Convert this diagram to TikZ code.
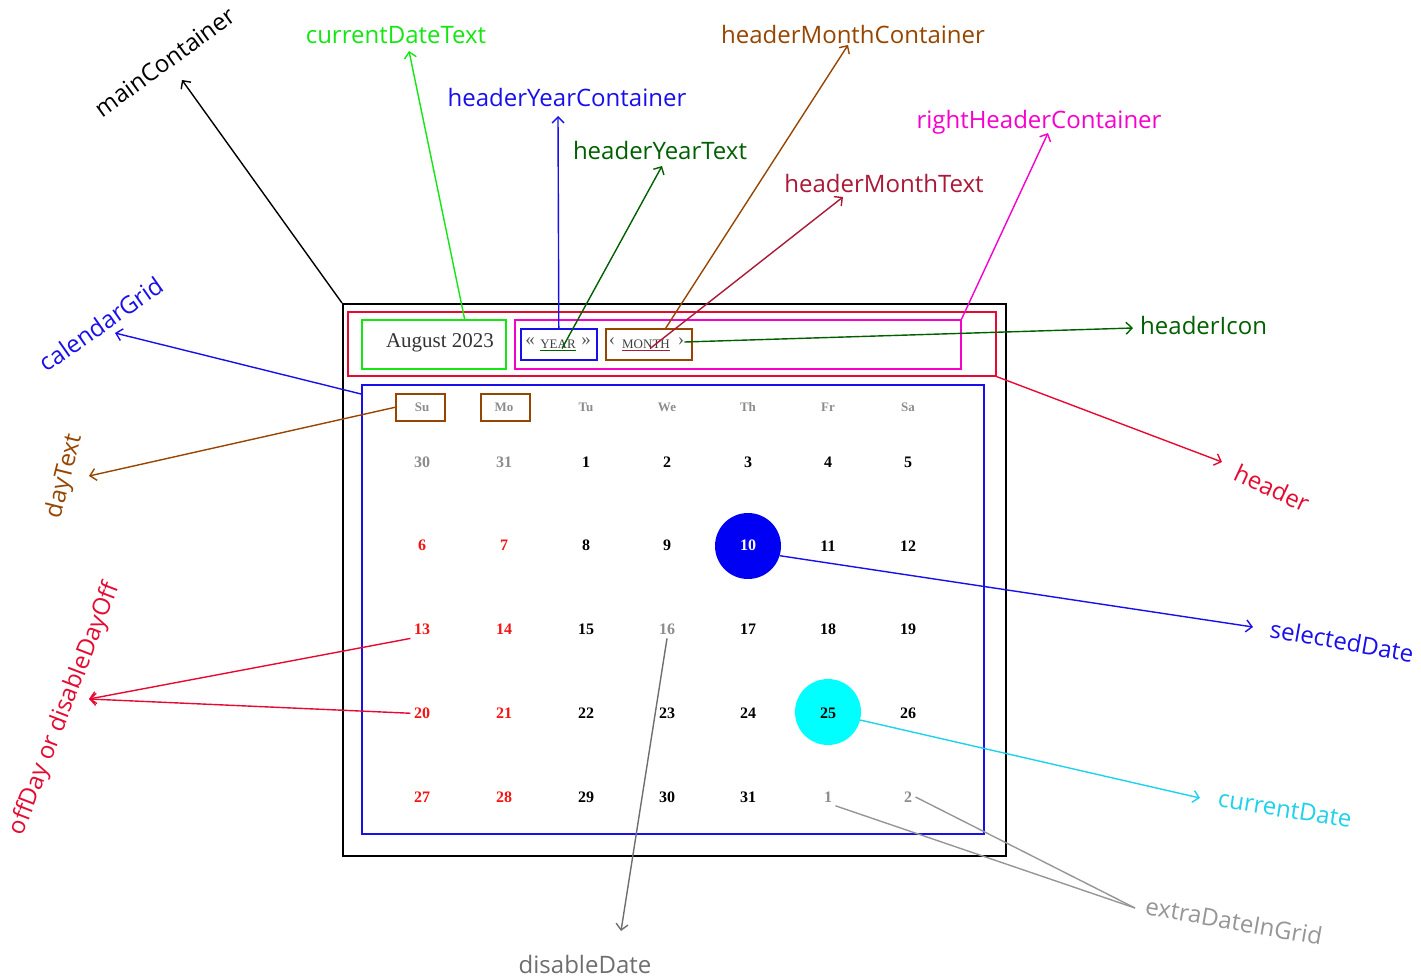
\documentclass[tikz,border=0pt]{standalone}
\usepackage{fontspec}
\setmainfont{Liberation Serif}
\setsansfont{Open Sans}
\usetikzlibrary{arrows.meta}
\definecolor{cgreen}{RGB}{20,230,20}
\definecolor{cblue}{RGB}{25,15,235}
\definecolor{cdkgreen}{RGB}{0,95,0}
\definecolor{cbrown}{RGB}{150,70,0}
\definecolor{cmaroon}{RGB}{170,25,55}
\definecolor{cmagenta}{RGB}{245,0,205}
\definecolor{ccrimson}{RGB}{230,10,50}
\definecolor{ccyan}{RGB}{30,210,235}
\definecolor{cdis}{RGB}{110,110,110}
\definecolor{cextra}{RGB}{150,150,150}
\definecolor{selfill}{RGB}{0,0,245}
\definecolor{curfill}{RGB}{0,255,255}
\definecolor{dg}{RGB}{140,140,140}
\definecolor{dk}{RGB}{0,0,0}
\definecolor{dr}{RGB}{245,20,20}
\definecolor{dw}{RGB}{255,255,255}
\tikzset{>={Straight Barb[length=6pt,width=12pt]},
lbl/.style={font=\sffamily\fontsize{24}{28}\selectfont, inner sep=0pt},
box/.style={draw, line width=1.6pt, inner sep=0pt, anchor=north west},
arr/.style={->, line width=1.4pt},
dayname/.style={font=\bfseries\fontsize{13}{15}\selectfont, text=dg},
date/.style={font=\bfseries\fontsize{16}{18}\selectfont},
hdr/.style={font=\fontsize{13}{15}\selectfont, text=black!75, inner sep=0pt},
chev/.style={font=\fontsize{19}{21}\selectfont, text=black!65, inner sep=0pt},
}

\begin{document}
\begin{tikzpicture}[x=1pt,y=-1pt]
\useasboundingbox (0,0) rectangle (1421,979);

    \node[box, draw=black, line width=2pt, minimum width=663pt, minimum height=552pt] (mainContainer) at (342,303) {};
    \node[box, draw=ccrimson, minimum width=648pt, minimum height=64pt] (header) at (347,311) {};
    \node[box, draw=cgreen, minimum width=144pt, minimum height=49pt] (dateBox) at (361,319) {};
    \node[box, draw=cmagenta, minimum width=446pt, minimum height=49pt] (rightBox) at (514,319) {};
    \node[box, draw=cblue, minimum width=76pt, minimum height=31pt] (yearBox) at (520,328) {};
    \node[box, draw=cbrown, minimum width=86pt, minimum height=31pt] (monthBox) at (605,328) {};
    \node[box, draw=cblue, minimum width=622pt, minimum height=449pt] (grid) at (361,384) {};
    \node[box, draw=cbrown, minimum width=49pt, minimum height=27pt] (suBox) at (395,393) {};
    \node[box, draw=cbrown, minimum width=49pt, minimum height=27pt] (moBox) at (480,393) {};

    \node[font=\fontsize{21}{24}\selectfont, text=black!80] (monthYear) at (440,343) {August 2023};
    \node[chev] (yearL) at (530,342) {«};
    \node[hdr] (yearTxt) at (558,344) {YEAR};
    \node[chev] (yearR) at (586,342) {»};
    \node[chev] (monthL) at (612,342) {‹};
    \node[hdr] (monthTxt) at (646,344) {MONTH};
    \node[chev] (monthIcon) at (681,342) {›};
    \draw[cdkgreen, line width=1.2pt] ([yshift=-2pt]yearTxt.base west) -- ([yshift=-2pt]yearTxt.base east);
    \draw[cmaroon, line width=1.2pt] ([yshift=-2pt]monthTxt.base west) -- ([yshift=-2pt]monthTxt.base east);

    \foreach \d [count=\k] in {Su,Mo,Tu,We,Th,Fr,Sa}{
        \pgfmathsetmacro\cx{{422,504,586,667,748,828,908}[\k-1]}
        \node[dayname] (n\k) at (\cx,407) {\d};
    }

    \node[circle, fill=selfill, minimum size=66pt] (sel) at (748,546) {};
    \node[circle, fill=curfill, minimum size=66pt] (cur) at (828,712) {};

    \foreach \row [count=\r] in {
        {30/dg,31/dg,1/dk,2/dk,3/dk,4/dk,5/dk},
        {6/dr,7/dr,8/dk,9/dk,10/dw,11/dk,12/dk},
        {13/dr,14/dr,15/dk,16/dg,17/dk,18/dk,19/dk},
        {20/dr,21/dr,22/dk,23/dk,24/dk,25/dk,26/dk},
        {27/dr,28/dr,29/dk,30/dk,31/dk,1/dg,2/dg}}
        \foreach \v/\c [count=\k] in \row{
            \pgfmathsetmacro\cx{{422,504,586,667,748,828,908}[\k-1]}
            \node[date, text=\c] (c\r\k) at (\cx,{462+83.75*(\r-1)}) {\v};
        }

    \coordinate (tipMain) at (182,80);
    \coordinate (tipCurDT) at (409,51);
    \coordinate (tipYearC) at (558,116);
    \coordinate (tipYearT) at (662,166);
    \coordinate (tipMonthC) at (848,45);
    \coordinate (tipMonthT) at (843,197);
    \coordinate (tipRight) at (1048,133);
    \coordinate (tipIcon) at (1133,328);
    \coordinate (tipHeader) at (1222,462);
    \coordinate (tipGrid) at (115,333);
    \coordinate (tipDay) at (89,476);
    \coordinate (tipOff) at (89,699);
    \coordinate (tipSel) at (1253,627);
    \coordinate (tipCur) at (1200,798);
    \coordinate (tipDis) at (621,931);
    \coordinate (extraJoin) at (1135,908);

    \node[lbl, rotate=36] (lMain) at (165,62) {mainContainer};
    \node[lbl, text=cgreen] (lCurDT) at (396,35) {currentDateText};
    \node[lbl, text=cblue] (lYearC) at (567,98) {headerYearContainer};
    \node[lbl, text=cdkgreen] (lYearT) at (660,150) {headerYearText};
    \node[lbl, text=cbrown] (lMonthC) at (853,35) {headerMonthContainer};
    \node[lbl, text=cmaroon] (lMonthT) at (884,183) {headerMonthText};
    \node[lbl, text=cmagenta] (lRight) at (1039,122) {rightHeaderContainer};
    \node[lbl, text=cdkgreen, anchor=west] (lIcon) at (1140,325) {headerIcon};
    \node[lbl, text=ccrimson, rotate=-25] (lHeader) at (1272,488) {header};
    \node[lbl, text=cblue, rotate=35] (lGrid) at (101,324) {calendarGrid};
    \node[lbl, text=cbrown, rotate=76] (lDay) at (65,476) {dayText};
    \node[lbl, text=ccrimson, rotate=69] (lOff) at (65,709) {offDay or disableDayOff};
    \node[lbl, text=cblue, rotate=-10] (lSel) at (1342,641) {selectedDate};
    \node[lbl, text=ccyan, rotate=-9] (lCur) at (1285,809) {currentDate};
    \node[lbl, text=cdis] (lDis) at (585,964) {disableDate};
    \node[lbl, text=cextra, rotate=-10] (lExtra) at (1234,921) {extraDateInGrid};

    \draw[arr] (mainContainer.north west) -- (tipMain);
    \draw[arr, cgreen] ([xshift=-42pt]dateBox.north east) -- (tipCurDT);
    \draw[arr, cblue] (yearBox.north) -- (tipYearC);
    \draw[arr, cdkgreen] ([xshift=4pt]yearTxt.south) -- (tipYearT);
    \draw[arr, cbrown] ([xshift=17pt]monthBox.north) -- (tipMonthC);
    \draw[arr, cmaroon] ([xshift=4pt]monthTxt.south) -- (tipMonthT);
    \draw[arr, cmagenta] (rightBox.north east) -- (tipRight);
    \draw[arr, cdkgreen] (monthIcon.east) -- (tipIcon);
    \draw[arr, ccrimson] (header.south east) -- (tipHeader);
    \draw[arr, cblue] ([yshift=-10pt]grid.north west) -- (tipGrid);
    \draw[arr, cbrown] (suBox.west) -- (tipDay);
    \draw[arr, ccrimson] (c31.south west) -- (tipOff);
    \draw[arr, ccrimson] (c41.west) -- (tipOff);
    \draw[arr, cblue] (sel.-17) -- (tipSel);
    \draw[arr, ccyan] (cur.-14) -- (tipCur);
    \draw[arr, cdis] (c34.south) -- (tipDis);
    \draw[cextra, line width=1.4pt] (c56.south east) -- (extraJoin);
    \draw[cextra, line width=1.4pt] (c57.east) -- (extraJoin);
\end{tikzpicture}
\end{document}
